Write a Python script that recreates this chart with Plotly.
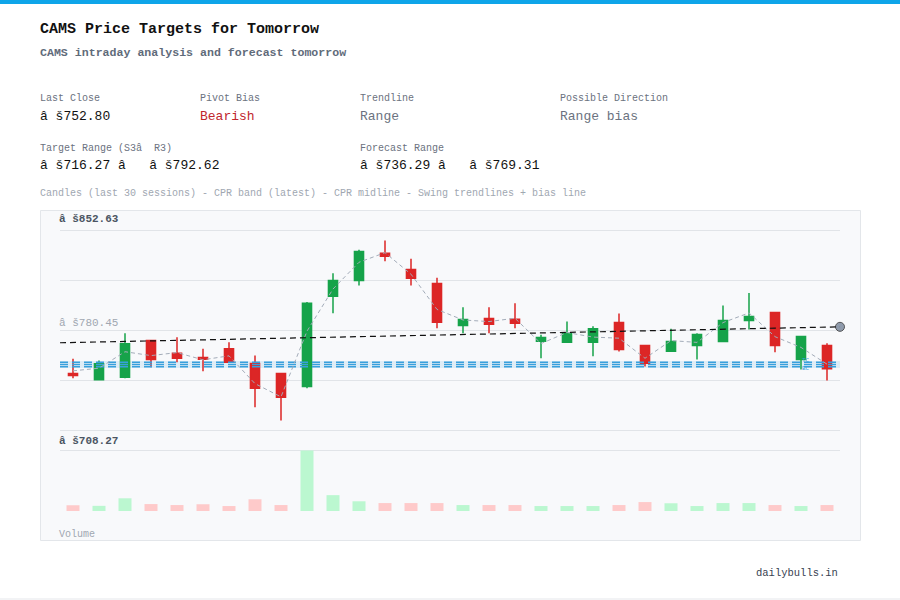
import plotly.graph_objects as go

# ---------------- data ----------------
sessions = list(range(30))
open_ = [749.4, 744.9, 746.7, 773.2, 764.0, 760.9, 767.2, 756.6, 749.4, 740.0,
         805.2, 816.5, 836.2, 824.5, 814.4, 784.1, 789.1, 788.6, 772.7, 772.0,
         772.0, 786.2, 769.6, 765.5, 769.6, 772.5, 787.7, 793.4, 759.5, 769.6]
high = [760.0, 758.8, 778.5, 773.6, 775.6, 767.2, 772.0, 762.4, 749.8, 801.0,
        821.8, 838.7, 845.4, 832.2, 818.5, 797.2, 797.2, 800.1, 777.3, 786.9,
        783.5, 792.7, 769.9, 781.7, 778.5, 798.5, 807.6, 793.6, 776.3, 771.3]
low = [746.0, 744.5, 746.0, 753.9, 757.5, 751.0, 757.0, 725.1, 715.5, 738.8,
       792.9, 812.9, 830.5, 812.9, 782.1, 778.5, 778.5, 782.1, 760.4, 771.8,
       761.9, 765.3, 754.5, 765.3, 759.5, 772.3, 781.2, 764.8, 752.3, 744.4]
close = [748.0, 756.4, 770.9, 759.5, 760.4, 759.7, 757.5, 738.8, 732.3, 800.1,
         816.5, 837.5, 834.1, 818.2, 786.4, 788.4, 785.0, 785.7, 775.4, 778.3,
         781.7, 766.7, 756.8, 772.5, 777.6, 787.7, 790.6, 769.6, 776.1, 752.8]
volume = [58, 52, 128, 70, 60, 68, 50, 118, 60, 610,
          160, 98, 80, 80, 80, 60, 60, 60, 50, 50,
          50, 60, 90, 78, 50, 80, 80, 60, 50, 60]  # thousands

cpr_tc, cpr_pivot, cpr_bc = 757.6, 755.9, 754.3
bias_x = [-0.5, 29.5]
bias_y = [771.6, 783.1]
price_hi, price_lo = 852.63, 708.27

last_close_txt = "â š752.80"
pivot_bias = "Bearish"
trendline_txt = "Range"
direction_txt = "Range bias"
target_range_txt = "â š716.27 â   â š792.62"
forecast_range_txt = "â š736.29 â   â š769.31"

FONT = "Liberation Mono"
GREEN = "#16a34a"
RED = "#dc2626"
GRID = "#e1e4e8"

typical = [(h + l + c) / 3 for h, l, c in zip(high, low, close)]
price_mid = (price_hi + price_lo) / 2
vol_colors = ["#bbf7d0" if c >= o else "#fecaca" for o, c in zip(open_, close)]
grid_vals = [price_lo + i * (price_hi - price_lo) / 4 for i in range(5)]

fig = go.Figure()

# volume
fig.add_trace(go.Bar(x=sessions, y=volume, marker=dict(color=vol_colors, line=dict(width=0)),
                     width=0.5, xaxis="x", yaxis="y2", hoverinfo="skip"))

# CPR band lines
for lvl in [cpr_tc, cpr_pivot, cpr_bc]:
    fig.add_trace(go.Scatter(x=bias_x, y=[lvl, lvl], mode="lines",
                             line=dict(color="#38a0dc", width=1.5, dash="8px,4px"),
                             hoverinfo="skip"))

# typical price path
fig.add_trace(go.Scatter(x=sessions, y=typical, mode="lines",
                         line=dict(color="#a3acb9", width=1, dash="4px,3px"), hoverinfo="skip"))

# candles
fig.add_trace(go.Candlestick(x=sessions, open=open_, high=high, low=low, close=close,
                             increasing=dict(line=dict(color=GREEN, width=1.5), fillcolor=GREEN),
                             decreasing=dict(line=dict(color=RED, width=1.5), fillcolor=RED),
                             whiskerwidth=0, hoverinfo="skip"))

# bias line
fig.add_trace(go.Scatter(x=bias_x, y=bias_y, mode="lines+markers", cliponaxis=False,
                         line=dict(color="#111111", width=1.2, dash="6px,4px"),
                         marker=dict(size=[0, 9], color="#64748b"), hoverinfo="skip"))

shapes = [
    dict(type="rect", xref="paper", yref="paper", x0=0, x1=1, y0=1 - 4 / 600, y1=1,
         fillcolor="#0ea5e9", line=dict(width=0), layer="below"),
    dict(type="rect", xref="paper", yref="paper", x0=40.5 / 900, x1=860.5 / 900,
         y0=1 - 540.5 / 600, y1=1 - 210.5 / 600,
         fillcolor="#f8f9fb", line=dict(color="#e3e6ea", width=1), layer="below"),
    dict(type="line", xref="paper", yref="paper", x0=0, x1=1, y0=1 - 599 / 600, y1=1 - 599 / 600,
         line=dict(color="#e5e7eb", width=1)),
]
# gridlines
for gv in grid_vals:
    shapes.append(dict(type="line", xref="paper", yref="y", x0=60 / 900, x1=840 / 900,
                       y0=gv, y1=gv, line=dict(color=GRID, width=1), layer="below"))
shapes.append(dict(type="line", xref="paper", yref="y2", x0=60 / 900, x1=840 / 900,
                   y0=max(volume), y1=max(volume), line=dict(color=GRID, width=1), layer="below"))
# CPR band fill
shapes.append(dict(type="rect", xref="x", yref="y", x0=bias_x[0], x1=bias_x[1],
                   y0=cpr_bc - 0.9, y1=cpr_tc + 0.9,
                   fillcolor="rgba(56,160,220,0.13)", line=dict(width=0), layer="below"))

annotations = []


def ann(text, xp, yp, size, color, bold=False, xanchor="left"):
    dx = -2 if xanchor == "left" else 2
    annotations.append(dict(
        text=f"<b>{text}</b>" if bold else text, x=(xp + dx) / 900, y=1 - (yp + 1) / 600,
        xref="paper", yref="paper", xanchor=xanchor, yanchor="middle",
        showarrow=False, font=dict(family=FONT, size=size, color=color)))


ann("CAMS Price Targets for Tomorrow", 40, 28, 15, "#111111", bold=True)
ann("CAMS intraday analysis and forecast tomorrow", 40, 51, 11.6, "#5f6b7a", bold=True)

ann("Last Close", 40, 97, 10, "#6b7280")
ann(last_close_txt, 40, 115, 13, "#111111")
ann("Pivot Bias", 200, 97, 10, "#6b7280")
ann(pivot_bias, 200, 115, 13, "#c0262d")
ann("Trendline", 360, 97, 10, "#6b7280")
ann(trendline_txt, 360, 115, 13, "#6b7280")
ann("Possible Direction", 560, 97, 10, "#6b7280")
ann(direction_txt, 560, 115, 13, "#6b7280")

ann("Target Range (S3â  R3)", 40, 147, 10, "#6b7280")
ann(target_range_txt, 40, 164, 13, "#111111")
ann("Forecast Range", 360, 147, 10, "#6b7280")
ann(forecast_range_txt, 360, 164, 13, "#111111")

ann("Candles (last 30 sessions) - CPR band (latest) - CPR midline - Swing trendlines + bias line",
    40, 192, 10, "#a0a7b1")

ann(f"â š{price_hi:.2f}", 59, 218, 11, "#4b5563", bold=True)
ann(f"â š{price_mid:.2f}", 59, 322, 11, "#a0a7b1")
ann(f"â š{price_lo:.2f}", 59, 440, 11, "#4b5563", bold=True)
ann("Volume", 59, 533, 10, "#a0a7b1")
ann("dailybulls.in", 838, 572, 10.5, "#374151", xanchor="right")

# small CPR tag near right edge
annotations.append(dict(text="TC<br>BC", x=28.2, y=cpr_pivot, xref="x", yref="y",
                        xanchor="center", yanchor="middle", showarrow=False,
                        font=dict(family=FONT, size=6, color="#38a0dc")))

fig.update_layout(
    width=900, height=600, margin=dict(l=0, r=0, t=0, b=0),
    paper_bgcolor="#ffffff", plot_bgcolor="rgba(0,0,0,0)",
    showlegend=False, boxgap=0.5, bargap=0.5,
    font=dict(family=FONT),
    shapes=shapes, annotations=annotations,
    xaxis=dict(domain=[60 / 900, 840 / 900], range=[-0.5, 29.5], showgrid=False,
               zeroline=False, showticklabels=False, ticks="", rangeslider=dict(visible=False),
               anchor="y2", fixedrange=True),
    yaxis=dict(domain=[1 - 431 / 600, 1 - 230 / 600],
               range=[price_lo - 0.36, price_hi + 0.36],
               showgrid=False, showticklabels=False, ticks="",
               zeroline=False, anchor="x", fixedrange=True),
    yaxis2=dict(domain=[1 - 511 / 600, 1 - 450 / 600], range=[0, max(volume) * 1.008],
                showgrid=False, showticklabels=False, ticks="",
                zeroline=False, anchor="x", fixedrange=True),
    hovermode=False,
)

fig.write_html("out.html")
